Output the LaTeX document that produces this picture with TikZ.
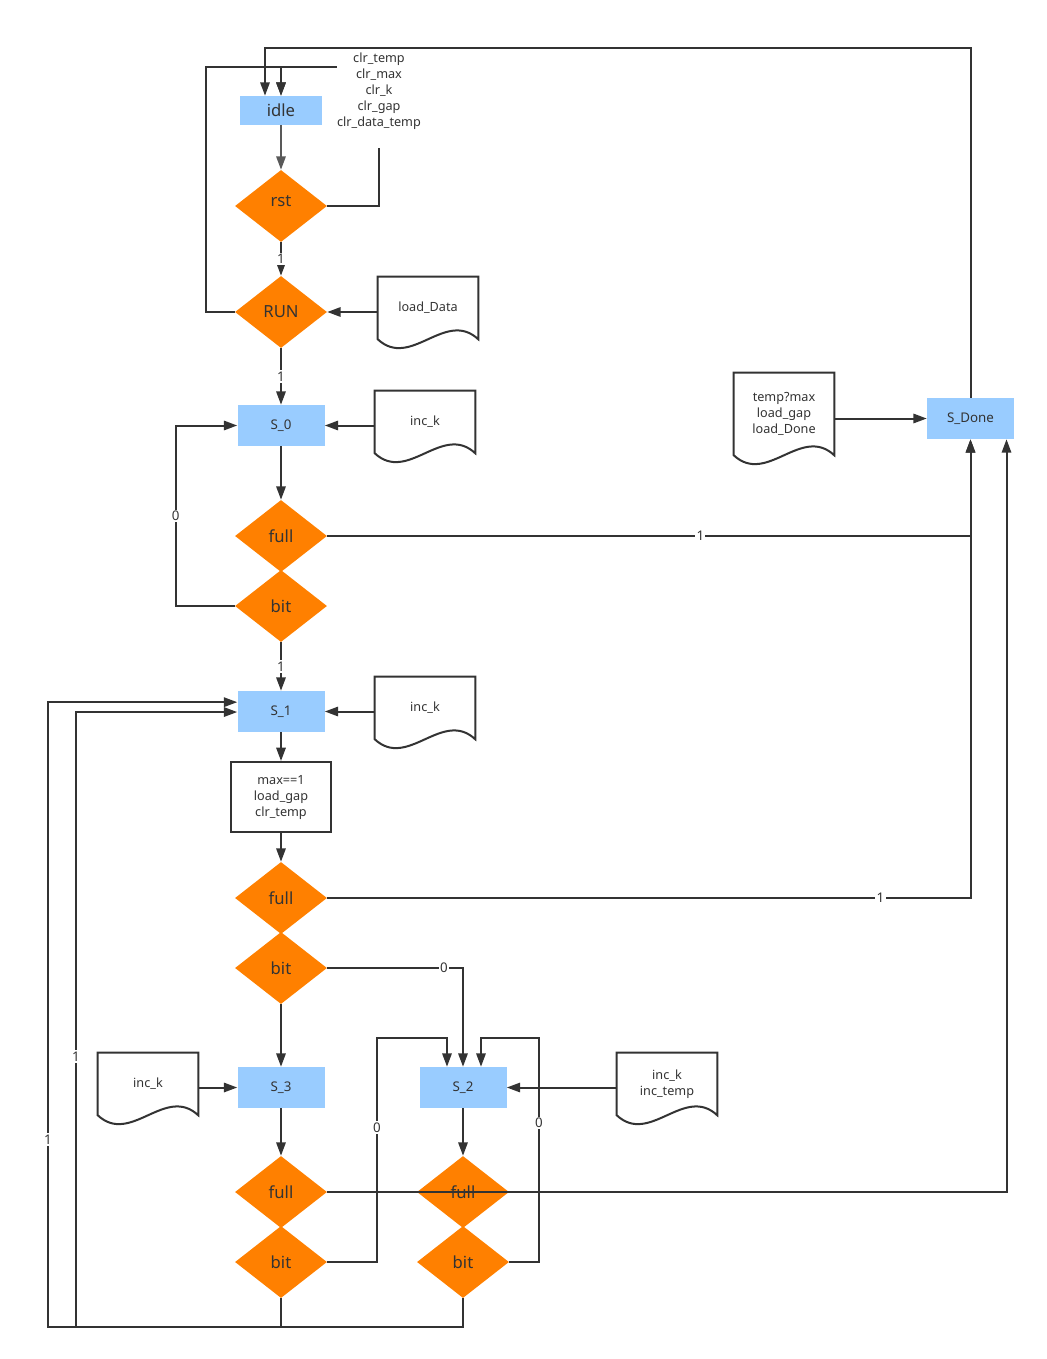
\documentclass[tikz,border=0pt]{standalone}
\usepackage{fontspec}
\setmainfont{Noto Sans}
\usetikzlibrary{shapes.geometric,arrows.meta}
\definecolor{StateBlue}{HTML}{99CCFF}
\definecolor{TestOrange}{HTML}{FF8000}
\definecolor{LineGray}{HTML}{333333}
\definecolor{IdleGray}{HTML}{595959}
% outline of a document node: flat top, wavy bottom
\newcommand{\DocOutline}[1]{%
  \draw[doc line] (#1.north west) -- (#1.north east) -- (#1.south east)
    .. controls ([shift={(-24.75pt,23pt)}]#1.south east) and ([shift={(24.75pt,-23pt)}]#1.south west) .. (#1.south west) -- cycle;}

\begin{document}
\begin{tikzpicture}[x=0.75pt, y=-0.75pt, text=LineGray,
  statebox/.style={rectangle, fill=StateBlue, minimum width=65.25pt, minimum height=30.75pt, inner sep=0pt, font=\fontsize{10}{12}\selectfont},
  test/.style={diamond, fill=TestOrange, minimum width=69pt, minimum height=54pt, aspect=1.28, inner sep=0pt, font=\fontsize{12.5}{14}\selectfont},
  doc/.style={rectangle, minimum width=75pt, minimum height=46.5pt, inner sep=0pt, align=center, font=\fontsize{9.5}{12}\selectfont},
  doc line/.style={draw=LineGray, line width=1.5pt},
  wire/.style={draw=LineGray, line width=1.5pt},
  arr/.style={draw=LineGray, line width=1.5pt, -{Triangle[length=10pt,width=7pt]}},
  lbl/.style={fill=white, inner sep=1pt, font=\fontsize{10}{11}\selectfont}]
  \useasboundingbox (0,0) rectangle (1046,1359);
  \pgfmathsetmacro{\ColMain}{281}
  \pgfmathsetmacro{\ColTwo}{463}
  % states and tests
  \node[statebox, minimum width=61.5pt, minimum height=21.75pt, font=\fontsize{12.5}{14}\selectfont] (idle) at (\ColMain,110.5) {idle};
  \node[test] (rst) at (\ColMain,206) {\raisebox{7pt}{rst}};
  \node[test] (run) at (\ColMain,312) {RUN};
  \node[statebox] (s0) at (\ColMain,425.5) {S\_0};
  \node[test] (full0) at (\ColMain,536) {full};
  \node[test] (bit0) at (\ColMain,606) {bit};
  \node[statebox] (s1) at (\ColMain,711.5) {S\_1};
  \node[draw=LineGray, line width=1.5pt, minimum width=75pt, minimum height=52.5pt, align=center, font=\fontsize{9.5}{12}\selectfont] (maxchk) at (\ColMain,797) {max==1\\load\_gap\\clr\_temp};
  \node[test] (full1) at (\ColMain,898) {full};
  \node[test] (bit1) at (\ColMain,968) {bit};
  \node[statebox] (s3) at (\ColMain,1087.5) {S\_3};
  \node[statebox] (s2) at (\ColTwo,1087.5) {S\_2};
  \node[test] (full3) at (\ColMain,1192) {full};
  \node[test] (bit3) at (\ColMain,1262) {bit};
  \node[test] (full2) at (\ColTwo,1192) {full};
  \node[test] (bit2) at (\ColTwo,1262) {bit};
  \node[statebox] (sdone) at (970.5,418.5) {S\_Done};
  % operations
  \node[align=center, inner xsep=0pt, inner ysep=13.5pt, font=\fontsize{9.5}{12}\selectfont] (clrops) at (379,91) {clr\_temp\\clr\_max\\clr\_k\\clr\_gap\\clr\_data\_temp};
  \node[doc] (loaddata) at (428,308) {load\_Data}; \DocOutline{loaddata}
  \node[doc] (inck0) at (425,422) {inc\_k}; \DocOutline{inck0}
  \node[doc] (inck1) at (425,708) {inc\_k}; \DocOutline{inck1}
  \node[doc, minimum height=61.5pt] (tempmax) at (784,414) {temp?max\\load\_gap\\load\_Done}; \DocOutline{tempmax}
  \node[doc] (inck3) at (148,1084) {inc\_k}; \DocOutline{inck3}
  \node[doc] (inckt) at (667,1084) {inc\_k\\inc\_temp}; \DocOutline{inckt}
  % turning points
  \coordinate (idlein) at (\ColMain,67);
  \coordinate (topturn) at (265,48);
  \coordinate (loopL) at (377,1038);
  \coordinate (loopR) at (539,1038);
  \coordinate (backA) at (48,1327);
  \coordinate (backB) at (76,1327);
  % connectors
  \draw[arr, draw=IdleGray] (idle) -- (rst);
  \draw[arr] (rst) -- (run) node[lbl, midway] {1};
  \draw[wire] (rst.east) -| (clrops.south);
  \draw[arr] (clrops.west |- idlein) -- (idlein) -- (idle.north);
  \draw[arr] (run.west) -- ++(-29,0) |- (idlein) -- (idle.north);
  \draw[arr] (sdone.north) |- (topturn) -- (topturn |- idle.north);
  \draw[arr] (loaddata.west |- run.east) -- (run.east);
  \draw[arr] (run) -- (s0) node[lbl, midway] {1};
  \draw[arr] (inck0.west |- s0.east) -- (s0.east);
  \draw[arr] (s0) -- (full0);
  \draw[arr] (full0.east) -| (sdone.south) node[lbl, pos=0.29] {1};
  \draw[arr] (bit0.west) -- ++(-59,0) |- (s0.west) node[lbl, pos=0.25] {0};
  \draw[arr] (bit0) -- (s1) node[lbl, midway] {1};
  \draw[arr] (inck1.west |- s1.east) -- (s1.east);
  \draw[arr] (s1) -- (maxchk);
  \draw[arr] (maxchk) -- (full1);
  \draw[arr] (full1.east) -| (sdone.south) node[lbl, pos=0.43] {1};
  \draw[arr] (bit1.east) -| (s2.north) node[lbl, pos=0.43] {0};
  \draw[arr] (bit1) -- (s3);
  \draw[arr] (tempmax.east |- sdone.west) -- (sdone.west);
  \draw[arr] (inck3.east |- s3.west) -- (s3.west);
  \draw[arr] (inckt.west |- s2.east) -- (s2.east);
  \draw[arr] (s3) -- (full3);
  \draw[arr] (s2) -- (full2);
  \draw[arr] (full3.east) -| ([xshift=27pt]sdone.south);
  \draw[arr] (bit3.east) -| (loopL) node[lbl, pos=0.8] {0} -| ([xshift=-12pt]s2.north);
  \draw[arr] (bit2.east) -| (loopR) node[lbl, pos=0.81] {0} -| ([xshift=13.5pt]s2.north);
  \draw[arr] (bit3.south) |- (backA) |- ([yshift=7pt]s1.west) node[lbl, pos=0.15] {1};
  \draw[arr] (bit2.south) |- (backB) |- ([yshift=-0.4pt]s1.west) node[lbl, pos=0.22] {1};
\end{tikzpicture}
\end{document}
